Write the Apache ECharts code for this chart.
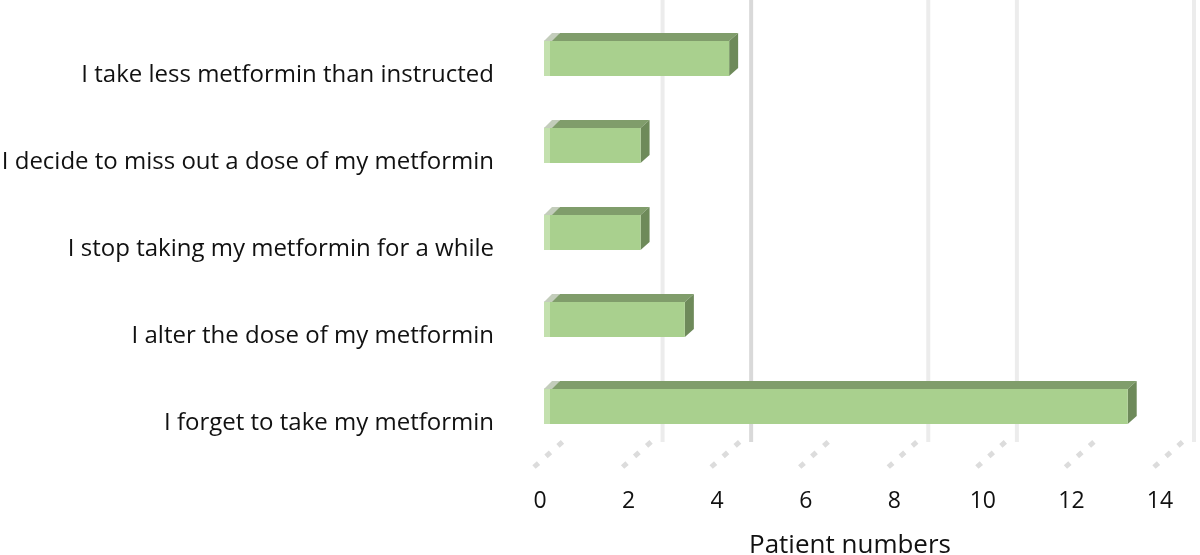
<!DOCTYPE html>
<html><head><meta charset="utf-8">
<script src="https://cdn.jsdelivr.net/npm/echarts@6/dist/echarts.min.js"></script>
<style>html,body{margin:0;padding:0;background:#fff}#c{width:1200px;height:555px}</style>
</head><body><div id="c"></div>
<script>
var categories = [
  "I take less metformin than instructed",
  "I decide to miss out a dose of my metformin",
  "I stop taking my metformin for a while",
  "I alter the dose of my metformin",
  "I forget to take my metformin"
];
var patientNumbers = [4, 2, 2, 3, 13];
var xTicks = [0, 2, 4, 6, 8, 10, 12, 14];
var wallGridTicks = [2, 4, 8, 10, 14];
var axisName = "Patient numbers";

var FONT = "Open Sans";
var chart = echarts.init(document.getElementById('c'), null, {renderer: 'canvas'});

function renderBar(params, api) {
  var v = api.value(0), ci = api.value(1);
  var p0 = api.coord([0, ci]), p1 = api.coord([v, ci]);
  var h = 35, dx = 9, dy = 8;
  var cy = p0[1] - 17;
  var top = cy - h / 2;
  var xl = p0[0] + 4, xr = p1[0] + 12;
  return {type: 'group', children: [
    {type: 'polygon', shape: {points: [[xl, top], [xl + 16, top - dy], [xr + dx, top - dy], [xr, top]]}, style: {fill: '#809d6b'}},
    {type: 'polygon', shape: {points: [[xl, top], [xl + 8, top - dy], [xl + 16, top - dy], [xl + 8, top]]}, style: {fill: '#c3cdbb'}},
    {type: 'polygon', shape: {points: [[xr, top], [xr + dx, top - dy], [xr + dx, top + h - dy], [xr, top + h]]}, style: {fill: '#6e8a5a'}},
    {type: 'rect', shape: {x: xl, y: top, width: xr - xl, height: h}, style: {fill: '#a9d08e'}},
    {type: 'rect', shape: {x: xl, y: top, width: 6, height: h}, style: {fill: '#c3e0ae'}}
  ]};
}

function renderWall(params, api) {
  var v = api.value(0);
  var p = api.coord([v, 0]);
  var cs = params.coordSys;
  var x = p[0] + 34;
  var col = v === 4 ? '#d9d9d9' : '#ececec';
  return {type: 'line', shape: {x1: x, y1: 0, x2: x, y2: cs.y + cs.height - 25},
    style: {stroke: col, lineWidth: 4}};
}

function renderFloor(params, api) {
  var v = api.value(0);
  var p = api.coord([v, 0]);
  var cs = params.coordSys;
  var yb = cs.y + cs.height;
  return {type: 'line', shape: {x1: p[0] - 6, y1: yb, x2: p[0] + 28, y2: yb - 30},
    style: {stroke: '#dcdcdc', lineWidth: 5, lineDash: [6, 10]}};
}

chart.setOption({
  animation: false,
  grid: {left: 540, right: 40, top: 32, bottom: 88, containLabel: false, outerBoundsMode: 'none'},
  xAxis: {
    type: 'value', min: 0, max: 14, interval: 2,
    name: axisName, nameLocation: 'middle', nameGap: 66,
    nameTextStyle: {fontFamily: FONT, fontSize: 26, color: '#111'},
    axisLabel: {fontFamily: FONT, fontSize: 23, color: '#111', margin: 23},
    axisLine: {show: false}, axisTick: {show: false}, splitLine: {show: false}
  },
  yAxis: {
    type: 'category', data: categories, inverse: true,
    axisLabel: {fontFamily: FONT, fontSize: 24, color: '#111', margin: 46},
    axisLine: {show: false}, axisTick: {show: false}, splitLine: {show: false}
  },
  series: [
    {type: 'custom', renderItem: renderWall, data: wallGridTicks.map(function (t) { return [t, 0]; }), encode: {x: 0, y: 1}, silent: true, z: 1},
    {type: 'custom', renderItem: renderFloor, data: xTicks.map(function (t) { return [t, 0]; }), encode: {x: 0, y: 1}, silent: true, z: 1},
    {type: 'custom', renderItem: renderBar, data: patientNumbers.map(function (v, i) { return [v, i]; }), encode: {x: 0, y: 1}, z: 3}
  ]
});
</script></body></html>
